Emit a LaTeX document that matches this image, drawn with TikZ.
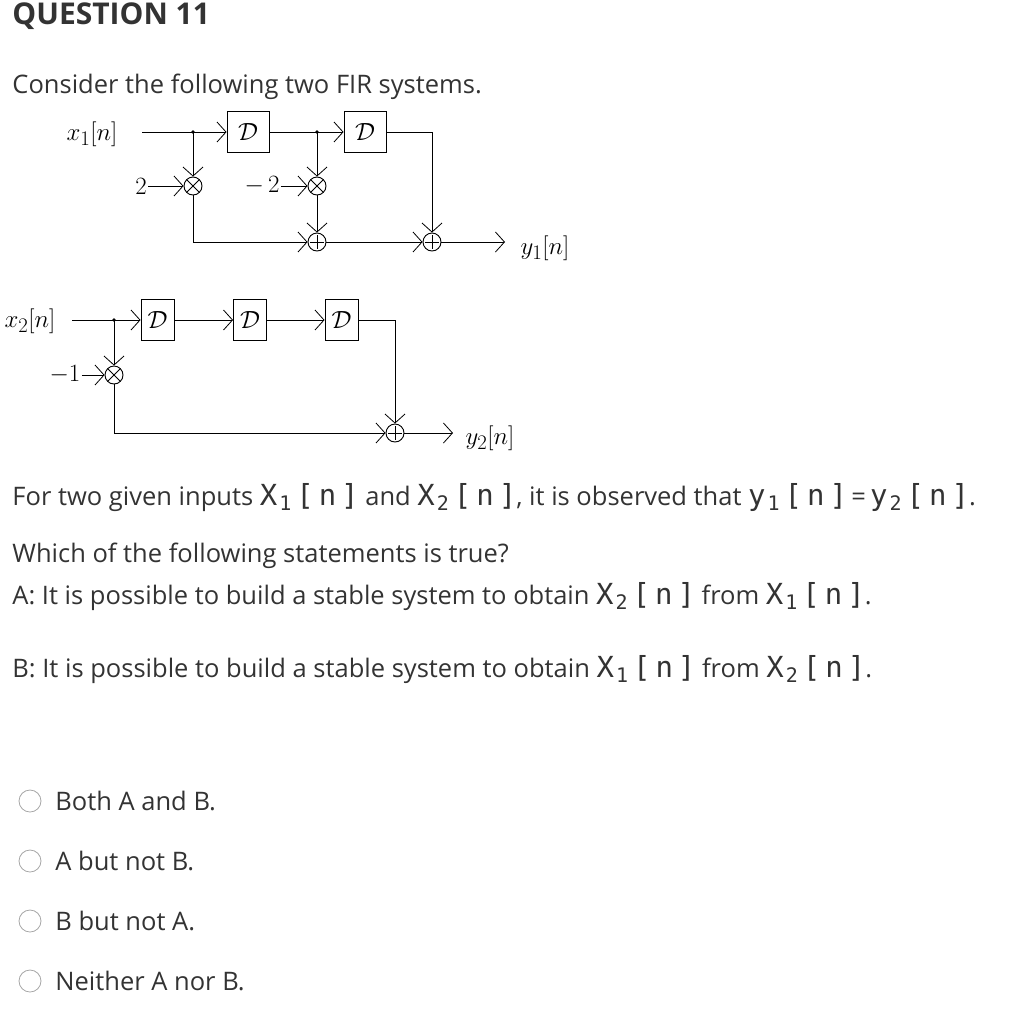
\documentclass[tikz,border=0pt]{standalone}
\usepackage{fontspec}
\setmainfont{Open Sans}
\newfontfamily\monof{DejaVu Sans Mono}
\usetikzlibrary{arrows.meta}
\definecolor{txt}{HTML}{333333}
\begin{document}
\begin{tikzpicture}[x=1pt,y=-1pt,line width=0.9pt,
  arr/.style={-{Straight Barb[length=9pt,width=20pt,line width=0.8pt]}},
  dbox/.style={draw,minimum width=42pt,minimum height=41pt,inner sep=0pt,font=\fontsize{24}{24}\selectfont},
  mult/.style={draw,circle,minimum size=18pt,inner sep=0pt,path picture={\draw (path picture bounding box.north west)--(path picture bounding box.south east) (path picture bounding box.north east)--(path picture bounding box.south west);}},
  addr/.style={draw,circle,minimum size=18pt,inner sep=0pt,path picture={\draw ([yshift=-2pt]path picture bounding box.north)--([yshift=2pt]path picture bounding box.south) ([xshift=2pt]path picture bounding box.west)--([xshift=-2pt]path picture bounding box.east);}},
  lab/.style={font=\fontsize{28}{28}\selectfont,inner sep=1pt},
  body/.style={anchor=west,text=txt,inner sep=0pt,font=\fontsize{25.5}{30}\selectfont},
  radio/.style={draw=gray!70,line width=0.8pt,circle,minimum size=22pt,inner sep=0pt}]
\useasboundingbox (0,0) rectangle (1028,1018);
\newcommand{\mx}[2]{{\monof\fontsize{29}{29}\selectfont #1\hspace{2pt}\raisebox{-0.3ex}{\fontsize{20}{20}\selectfont #2}\hspace{5pt}[\hspace{5pt}n\hspace{5pt}]}}
\node[body,font=\bfseries\fontsize{30}{34}\selectfont] (q) at (12,16) {QUESTION 11};
\node[body] (t1) at (12,87) {Consider the following two FIR systems.};
% system 1
\node[lab] (x1) at (92,134) {$x_1[n]$};
\coordinate (s1) at (142,132);
\node[dbox] (a1) at (248,132) {$\mathcal{D}$};
\node[dbox] (a2) at (365,132) {$\mathcal{D}$};
\coordinate (j1) at (193,132);
\coordinate (j2) at (317,132);
\node[mult] (m1) at (193,186) {};
\node[mult] (m2) at (317,186) {};
\node[addr] (p1) at (317,242) {};
\node[addr] (p2) at (432,242) {};
\node[lab] (k1) at (141,186) {$2$};
\node[lab] (k2) at (262,186) {$-\,2$};
\coordinate (o1) at (505,242);
\node[lab] (y1) at (545,248) {$y_1[n]$};
\draw[arr] (s1) -- (a1);
\draw[arr] (a1) -- (a2);
\fill (j1) circle (1.8pt) (j2) circle (1.8pt);
\draw[arr] (j1) -- (m1);
\draw[arr] (j2) -- (m2);
\draw[arr] (k1) -- (m1);
\draw[arr] (k2) -- (m2);
\draw[arr] (m1) |- (p1);
\draw[arr] (m2) -- (p1);
\draw[arr] (p1) -- (p2);
\draw[arr] (a2.east) -| (p2);
\draw[arr] (p2) -- (o1);
% system 2
\node[lab] (x2) at (30,321) {$x_2[n]$};
\coordinate (s2) at (72,320);
\node[dbox,minimum width=33pt] (b1) at (157.5,320) {$\mathcal{D}$};
\node[dbox,minimum width=33pt] (b2) at (250,320) {$\mathcal{D}$};
\node[dbox,minimum width=33pt] (b3) at (341.5,320) {$\mathcal{D}$};
\coordinate (j3) at (114,320);
\node[mult] (m3) at (114,375) {};
\node[lab] (k3) at (65,375) {$-1$};
\node[addr] (p3) at (395,433) {};
\coordinate (o2) at (453,433);
\node[lab] (y2) at (490,438) {$y_2[n]$};
\draw[arr] (s2) -- (b1);
\draw[arr] (b1) -- (b2);
\draw[arr] (b2) -- (b3);
\fill (j3) circle (1.8pt);
\draw[arr] (j3) -- (m3);
\draw[arr] (k3) -- (m3);
\draw[arr] (m3) |- (p3);
\draw[arr] (b3.east) -| (p3);
\draw[arr] (p3) -- (o2);
% text
\node[body] (t2) at (12,498) {For two given inputs \mx{X}{1} and \mx{X}{2}, it is observed that \mx{y}{1}\,=\,\mx{y}{2}.};
\node[body] (t3) at (12,556) {Which of the following statements is true?};
\node[body] (t4) at (12,597) {A: It is possible to build a stable system to obtain \mx{X}{2} from \mx{X}{1}.};
\node[body] (t5) at (12,670) {B: It is possible to build a stable system to obtain \mx{X}{1} from \mx{X}{2}.};
\node[radio] (r1) at (30,801) {};
\node[radio] (r2) at (30,861) {};
\node[radio] (r3) at (30,921) {};
\node[radio] (r4) at (30,981) {};
\node[body] (o1t) at (55,801) {Both A and B.};
\node[body] (o2t) at (55,861) {A but not B.};
\node[body] (o3t) at (55,921) {B but not A.};
\node[body] (o4t) at (55,981) {Neither A nor B.};
\end{tikzpicture}
\end{document}
